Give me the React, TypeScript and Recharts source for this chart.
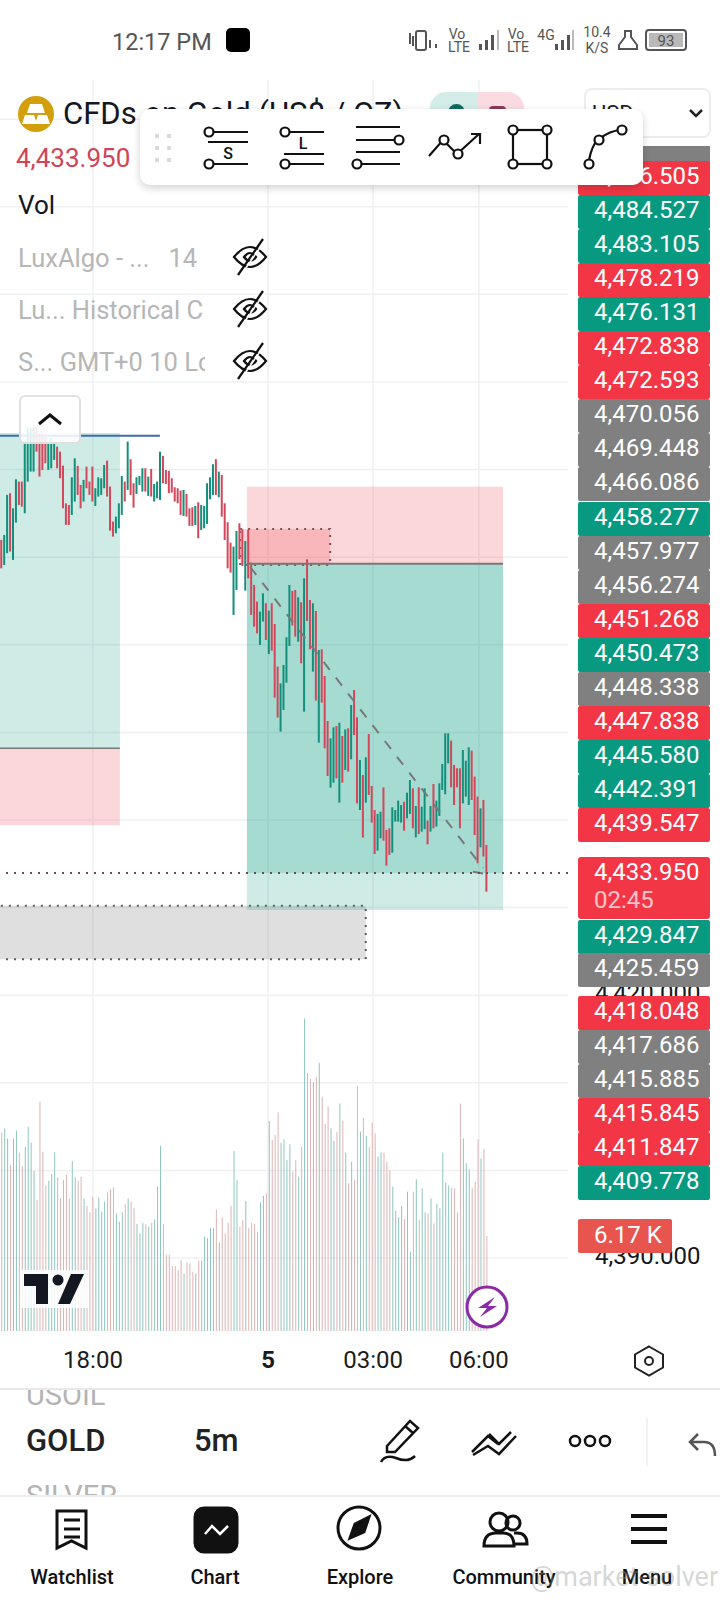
import React from 'react';
import { ComposedChart, Bar, XAxis, YAxis, CartesianGrid, ReferenceArea, ReferenceLine } from 'recharts';

// 5m GOLD candles
const highs = [
  4471.97, 4472.54, 4477.11, 4477.3, 4475.58, 4478.89, 4478.63, 4478.63, 4483.0, 4484.72,
  4484.72, 4484.91, 4484.91, 4484.15, 4483.76, 4483.76, 4483.0, 4483.57, 4483.0, 4482.62,
  4482.05, 4480.45, 4476.15, 4475.96, 4479.12, 4481.29, 4480.42, 4478.25, 4478.82, 4480.34,
  4478.63, 4480.34, 4477.87, 4479.12, 4479.01, 4480.53, 4481.02, 4478.06, 4474.06, 4474.63,
  4476.15, 4479.27, 4478.63, 4483.19, 4481.18, 4478.44, 4479.12, 4479.27, 4480.15, 4480.15,
  4479.2, 4480.07, 4478.36, 4478.63, 4482.05, 4481.56, 4479.96, 4479.85, 4479.01, 4477.98,
  4477.87, 4477.6, 4477.68, 4477.22, 4475.58, 4475.7, 4475.85, 4476.27, 4475.96, 4475.85,
  4478.44, 4479.12, 4480.61, 4481.18, 4479.77, 4479.39, 4476.15, 4473.99, 4471.66, 4471.21,
  4473.0, 4473.87, 4473.19, 4471.85, 4473.11, 4469.38, 4466.83, 4464.93, 4463.79, 4465.88,
  4464.74, 4463.9, 4464.74, 4462.38, 4457.51, 4455.6, 4457.7, 4460.86, 4466.83, 4466.15,
  4466.26, 4465.42, 4464.85, 4467.59, 4469.76, 4465.12, 4464.74, 4463.86, 4459.41, 4459.49,
  4456.44, 4451.3, 4449.32, 4450.58, 4450.73, 4451.11, 4449.59, 4450.35, 4450.47, 4453.13,
  4454.84, 4451.72, 4446.85, 4445.14, 4447.16, 4449.82, 4443.88, 4441.14, 4440.69, 4440.95,
  4443.73, 4438.86, 4439.05, 4441.45, 4441.14, 4442.21, 4441.71, 4442.09, 4443.12, 4444.57,
  4443.62, 4441.6, 4443.73, 4441.52, 4443.62, 4439.93, 4441.6, 4444.11, 4442.21, 4444.19,
  4446.39, 4449.9, 4449.9, 4449.06, 4446.28, 4445.9, 4445.9, 4447.99, 4446.77, 4448.3,
  4447.92, 4444.95, 4442.67, 4441.33, 4442.29, 4437.15,
];
const lows = [
  4468.73, 4469.11, 4470.45, 4470.64, 4469.69, 4473.95, 4475.96, 4475.77, 4475.01, 4478.63,
  4479.77, 4479.77, 4482.05, 4479.2, 4479.96, 4480.72, 4479.96, 4480.15, 4481.1, 4480.15,
  4479.01, 4475.58, 4473.68, 4473.68, 4474.82, 4476.35, 4477.11, 4475.58, 4476.35, 4477.87,
  4477.11, 4476.35, 4475.85, 4476.92, 4477.11, 4477.87, 4476.92, 4473.03, 4472.35, 4472.73,
  4473.3, 4474.82, 4476.35, 4477.68, 4477.11, 4475.66, 4477.22, 4478.25, 4477.49, 4477.49,
  4476.99, 4476.92, 4476.35, 4476.72, 4476.53, 4478.44, 4478.36, 4477.3, 4477.37, 4476.35,
  4476.15, 4474.82, 4474.71, 4474.63, 4473.57, 4473.57, 4473.68, 4472.16, 4473.11, 4473.3,
  4473.8, 4476.61, 4477.11, 4477.11, 4476.84, 4474.63, 4471.97, 4468.73, 4468.24, 4463.41,
  4466.26, 4469.76, 4469.0, 4466.18, 4467.59, 4463.41, 4462.07, 4461.31, 4459.98, 4462.65,
  4460.55, 4458.95, 4459.33, 4453.97, 4451.69, 4450.09, 4452.56, 4455.68, 4459.87, 4462.19,
  4460.93, 4460.36, 4457.89, 4452.37, 4462.72, 4459.49, 4456.94, 4453.63, 4448.83, 4453.4,
  4448.18, 4445.02, 4443.7, 4444.26, 4444.76, 4441.98, 4444.26, 4445.71, 4445.52, 4446.93,
  4449.7, 4441.9, 4441.14, 4437.99, 4441.98, 4442.86, 4439.7, 4436.12, 4436.5, 4437.91,
  4437.64, 4434.79, 4436.01, 4436.27, 4439.81, 4439.81, 4439.7, 4438.78, 4440.19, 4440.69,
  4439.05, 4438.02, 4438.4, 4438.67, 4438.94, 4437.22, 4438.67, 4439.05, 4439.24, 4440.46,
  4443.43, 4442.93, 4446.47, 4443.73, 4441.71, 4443.73, 4439.05, 4441.9, 4442.67, 4441.71,
  4442.28, 4438.29, 4435.06, 4436.88, 4435.82, 4431.82,
];
// g = close above open, r = close below open
const directions = [
  'r', 'g', 'g', 'r', 'g', 'g', 'r', 'r', 'g', 'g',
  'g', 'g', 'r', 'r', 'r', 'r', 'g', 'g', 'g', 'r',
  'r', 'r', 'r', 'r', 'g', 'g', 'r', 'r', 'g', 'r',
  'r', 'r', 'g', 'g', 'g', 'g', 'r', 'r', 'r', 'g',
  'g', 'g', 'r', 'g', 'r', 'r', 'g', 'g', 'g', 'r',
  'g', 'r', 'g', 'g', 'g', 'r', 'r', 'r', 'r', 'r',
  'r', 'r', 'g', 'r', 'r', 'r', 'g', 'r', 'g', 'g',
  'g', 'g', 'g', 'r', 'g', 'r', 'r', 'r', 'r', 'g',
  'g', 'r', 'r', 'g', 'r', 'r', 'r', 'r', 'g', 'g',
  'r', 'g', 'r', 'r', 'r', 'g', 'g', 'g', 'g', 'r',
  'r', 'g', 'r', 'g', 'r', 'r', 'g', 'r', 'g', 'r',
  'r', 'r', 'g', 'g', 'r', 'g', 'r', 'g', 'r', 'g',
  'r', 'r', 'g', 'r', 'g', 'r', 'r', 'r', 'g', 'g',
  'r', 'r', 'r', 'g', 'g', 'g', 'g', 'r', 'g', 'g',
  'r', 'g', 'r', 'g', 'g', 'r', 'g', 'r', 'g', 'g',
  'g', 'g', 'g', 'r', 'r', 'r', 'r', 'g', 'g', 'g',
  'r', 'r', 'r', 'g', 'r', 'r',
];
const volumes = [
  12.88, 13.16, 12.51, 10.78, 12.47, 13.01, 11.58, 10.71, 11.97, 13.27,
  12.23, 10.39, 8.51, 14.89, 11.65, 9.44, 9.76, 10.19, 11.6, 9.98,
  8.61, 9.81, 10.13, 8.61, 11.04, 9.98, 9.76, 10.02, 8.61, 8.14,
  7.71, 8.72, 7.97, 8.66, 7.75, 8.4, 9.0, 9.22, 9.33, 7.64,
  7.1, 7.71, 8.25, 8.61, 8.4, 7.97, 6.95, 6.34, 7.03, 6.93,
  6.77, 7.03, 7.25, 9.37, 12.03, 6.93, 4.94, 4.94, 4.22, 4.22,
  3.96, 4.61, 3.74, 4.44, 4.39, 3.85, 3.74, 4.57, 4.57, 6.13,
  6.02, 6.71, 6.67, 7.9, 5.74, 7.38, 6.34, 7.03, 8.12, 11.69,
  9.81, 6.77, 7.21, 8.44, 6.71, 7.03, 6.95, 6.45, 8.33, 8.79,
  8.94, 13.64, 12.4, 12.73, 14.2, 12.23, 12.45, 11.1, 12.12, 10.35,
  11.1, 10.02, 11.97, 20.3, 16.77, 16.36, 16.15, 16.52, 17.42, 15.22,
  13.44, 14.57, 13.16, 12.36, 12.94, 14.78, 13.66, 11.58, 9.59, 11.0,
  9.81, 15.91, 12.94, 13.85, 12.68, 11.93, 13.53, 12.84, 11.32, 11.6,
  11.58, 10.99, 10.45, 9.37, 7.81, 7.38, 8.12, 7.27, 9.05, 5.15,
  9.05, 9.87, 7.21, 9.26, 7.71, 7.64, 8.61, 6.99, 8.25, 7.97,
  11.58, 9.65, 9.44, 9.31, 9.26, 7.71, 14.78, 12.51, 10.89, 10.5,
  9.31, 9.7, 12.45, 11.21, 11.82, 6.17,
];

const rows = highs.map((high, i) => ({
  i,
  high,
  low: lows[i],
  up: directions[i] === 'g',
  vol: volumes[i],
}));

const priceTicks = [4520, 4510, 4500, 4490, 4480, 4470, 4460, 4450, 4440, 4430, 4420, 4410, 4400, 4390];
const timeTicks = [31.05, 90.6, 126.3, 162.3];
const timeLabels = ['18:00', '5', '03:00', '06:00'];

const upperTags: [string, string][] = [
  ['4,486.505', 'r'], ['4,484.527', 'g'], ['4,483.105', 'g'], ['4,478.219', 'r'], ['4,476.131', 'g'],
  ['4,472.838', 'r'], ['4,472.593', 'r'], ['4,470.056', 'n'], ['4,469.448', 'n'], ['4,466.086', 'n'],
  ['4,458.277', 'g'], ['4,457.977', 'n'], ['4,456.274', 'n'], ['4,451.268', 'r'], ['4,450.473', 'g'],
  ['4,448.338', 'n'], ['4,447.838', 'r'], ['4,445.580', 'g'], ['4,442.391', 'g'], ['4,439.547', 'r'],
];
const lowerTags: [string, string][] = [
  ['4,429.847', 'g'], ['4,425.459', 'n'],
];
const bottomTags: [string, string][] = [
  ['4,418.048', 'r'], ['4,417.686', 'n'], ['4,415.885', 'n'], ['4,415.845', 'r'], ['4,411.847', 'r'], ['4,409.778', 'g'],
];
const tagColors: { [key: string]: string } = { r: '#f23645', g: '#089981', n: '#808080' };
const navItems = [
  ['Watchlist', 72],
  ['Chart', 215],
  ['Explore', 360],
  ['Community', 504],
  ['Menu', 647],
] as [string, number][];

const ROBOTO = 'Roboto, sans-serif';

const CandleShape = (props: any) => {
  const { x, y, width, height, payload } = props;
  return (
    <rect
      x={x + width / 2 - 1}
      y={y}
      width={2}
      height={Math.max(height, 1)}
      fill={payload.up ? '#12907b' : '#d2485a'}
    />
  );
};

const VolumeShape = (props: any) => {
  const { x, y, width, height, payload } = props;
  return (
    <rect
      x={x + width / 2 - 0.5}
      y={y}
      width={1}
      height={height}
      fill={payload.up ? '#8fc5bf' : '#deb4b4'}
    />
  );
};

const TimeTick = (props: any) => {
  const { x, y, index } = props;
  const label = timeLabels[index];
  return (
    <text
      x={x}
      y={y}
      dy={29}
      textAnchor="middle"
      style={{ fontFamily: ROBOTO, fontSize: 24, fontWeight: label === '5' ? 700 : 400, fill: '#1c1c1c' }}
    >
      {label}
    </text>
  );
};

const Tag = ({ top, label, kind, height = 34 }: { top: number; label: string; kind: string; height?: number }) => (
  <div
    style={{
      position: 'absolute',
      left: 578,
      top,
      width: 132,
      height,
      background: tagColors[kind],
      borderRadius: 2,
      color: '#fff',
      fontFamily: ROBOTO,
      fontSize: 24,
      lineHeight: `${height - 3}px`,
      paddingLeft: 16,
      boxSizing: 'border-box',
    }}
  >
    {label}
  </div>
);

const Text = ({ x, y, size, color, children, weight = 400, clip }: any) => (
  <div
    style={{
      position: 'absolute',
      left: x,
      top: y - size,
      lineHeight: `${size * 2}px`,
      fontFamily: ROBOTO,
      fontSize: size,
      fontWeight: weight,
      color,
      whiteSpace: 'nowrap',
      width: clip,
      overflow: clip ? 'hidden' : undefined,
    }}
  >
    {children}
  </div>
);

const EyeOff = ({ y }: { y: number }) => (
  <g transform={`translate(250 ${y})`} fill="none" stroke="#111" strokeWidth={2.2}>
    <path d="M-16 0 Q0 -20 16 0 Q0 20 -16 0Z" />
    <path d="M-6 0 Q0 -8 6 0 Q0 8 -6 0Z" />
    <path d="M-12 18 L13 -18" />
    <path d="M-9 18 L16 -18" stroke="#fff" strokeWidth={1.5} />
  </g>
);

const ToolIcons = () => (
  <g fill="none" stroke="#111" strokeWidth={2.2}>
    {/* short */}
    <circle cx={209} cy={132} r={4.5} fill="#fff" /><path d="M214 132 H248 M208 142 H248 M214 164 H248" /><circle cx={209} cy={164} r={4.5} fill="#fff" />
    {/* long */}
    <circle cx={285} cy={132} r={4.5} fill="#fff" /><path d="M290 132 H324 M284 154 H324 M290 164 H324" /><circle cx={285} cy={164} r={4.5} fill="#fff" />
    {/* parallel */}
    <path d="M356 127 H400 M356 140 H394 M356 152 H400 M362 164 H400" /><circle cx={399} cy={140} r={4.5} fill="#fff" /><circle cx={357} cy={164} r={4.5} fill="#fff" />
    {/* path */}
    <path d="M429 156 L443 140 L457 154 L479 134 M471 134 H480 V144" /><circle cx={444} cy={140} r={4.5} fill="#fff" /><circle cx={458} cy={154} r={4.5} fill="#fff" />
    {/* rectangle */}
    <rect x={513} y={130} width={34} height={34} /><circle cx={513} cy={130} r={4.5} fill="#fff" /><circle cx={547} cy={130} r={4.5} fill="#fff" /><circle cx={513} cy={164} r={4.5} fill="#fff" /><circle cx={547} cy={164} r={4.5} fill="#fff" />
    {/* curve */}
    <path d="M589 160 Q592 145 598 140 Q610 130 622 130" /><circle cx={589} cy={164} r={4.5} fill="#fff" /><circle cx={599} cy={140} r={4.5} fill="#fff" /><circle cx={622} cy={130} r={4.5} fill="#fff" />
  </g>
);

const NavIcons = () => (
  <g fill="none" stroke="#111" strokeWidth={3}>
    <path d="M57 1511 H86 V1548 L71.5 1541 L57 1548 Z" />
    <path d="M64 1520 H80 M64 1529 H80 M64 1537 H80" />
    <rect x={195} y={1508} width={42} height={44} rx={9} fill="#111" />
    <path d="M205 1534 L212 1526 L220 1534 L228 1526" stroke="#fff" strokeWidth={2.5} />
    <circle cx={359} cy={1528} r={21} />
    <path d="M350 1538 L355 1524 L369 1517 L364 1532 Z" fill="#111" />
    <circle cx={499} cy={1522} r={9} /><path d="M484 1546 Q484 1533 496 1533 H503 Q514 1533 514 1546 Z" />
    <circle cx={513} cy={1523} r={7} /><path d="M514 1533 H517 Q527 1533 527 1544 H514" />
    <path d="M631 1516 H667 M631 1529 H667 M631 1542 H667" strokeWidth={4} />
  </g>
);

const App = () => (
  <div style={{ position: 'absolute', left: 0, top: 0, width: 720, height: 1599, overflow: 'hidden', background: '#fff' }}>
    <div style={{ position: 'absolute', left: 0, top: 0 }}>
      <ComposedChart
        width={720}
        height={1599}
        data={rows}
        margin={{ top: 80, right: 0, bottom: 208, left: 0 }}
        barGap={0}
      >
        <CartesianGrid stroke="#eff0f2" strokeWidth={1.5} xAxisId="price" yAxisId="price" syncWithTicks />
        <XAxis
          xAxisId="price"
          dataKey="i"
          type="number"
          domain={[-0.58, 192.6]}
          ticks={timeTicks}
          height={60}
          axisLine={false}
          tickLine={false}
          tick={<TimeTick />}
          interval={0}
          allowDecimals
        />
        <XAxis xAxisId="vol" dataKey="i" type="number" domain={[-0.58, 192.6]} hide />
        <YAxis
          yAxisId="price"
          orientation="right"
          type="number"
          domain={[4381.67, 4524.47]}
          ticks={priceTicks}
          width={152}
          axisLine={false}
          tickLine={false}
          tickMargin={21}
          interval={0}
          tickFormatter={(v: number) => `${v.toLocaleString('en-US')}.000`}
          tick={{ fontFamily: ROBOTO, fontSize: 24, fill: '#131722', textAnchor: 'start', dy: -3 }}
        />
        <YAxis yAxisId="vol" type="number" domain={[0, 81.25]} hide />

        {/* left trade box */}
        <ReferenceArea xAxisId="price" yAxisId="price" x1={-0.58} x2={40.2} y1={4484.18} y2={4448.2} fill="#089981" fillOpacity={0.2} stroke="none" />
        <ReferenceArea xAxisId="price" yAxisId="price" x1={-0.58} x2={40.2} y1={4448.2} y2={4439.4} fill="#f23645" fillOpacity={0.2} stroke="none" />
        <ReferenceLine xAxisId="price" yAxisId="price" segment={[{ x: -0.58, y: 4448.2 }, { x: 40.2, y: 4448.2 }]} stroke="#787878" strokeWidth={1.5} />
        <ReferenceLine xAxisId="price" yAxisId="price" segment={[{ x: -0.58, y: 4483.87 }, { x: 53.8, y: 4483.87 }]} stroke="#3c6db4" strokeWidth={2} />

        {/* grey zone, starts off screen so the dotted edge does not show */}
        <ReferenceArea xAxisId="price" yAxisId="price" x1={-3} x2={123.8} y1={4430.2} y2={4424.1} ifOverflow="visible" fill="#787878" fillOpacity={0.24} stroke="#5c5c5c" strokeWidth={2} strokeDasharray="2 6" />

        {/* right trade box */}
        <ReferenceArea xAxisId="price" yAxisId="price" x1={83.4} x2={170.5} y1={4478.05} y2={4469.26} fill="#f23645" fillOpacity={0.2} stroke="none" />
        <ReferenceArea xAxisId="price" yAxisId="price" x1={83.4} x2={170.5} y1={4469.26} y2={4429.73} fill="#089981" fillOpacity={0.2} stroke="none" />
        <ReferenceArea xAxisId="price" yAxisId="price" x1={83.4} x2={170.5} y1={4469.26} y2={4433.95} fill="#089981" fillOpacity={0.2} stroke="none" />
        <ReferenceArea xAxisId="price" yAxisId="price" x1={81.1} x2={111.7} y1={4473.22} y2={4469.11} fill="#f23645" fillOpacity={0.2} stroke="#7d5560" strokeWidth={2} strokeDasharray="2 6" />
        <ReferenceLine xAxisId="price" yAxisId="price" segment={[{ x: 83.4, y: 4469.26 }, { x: 170.5, y: 4469.26 }]} stroke="#787878" strokeWidth={2} />

        <Bar xAxisId="vol" yAxisId="vol" dataKey="vol" barSize={1} shape={<VolumeShape />} isAnimationActive={false} />
        <Bar
          xAxisId="price"
          yAxisId="price"
          dataKey={(d: any) => [d.low, d.high]}
          barSize={2}
          shape={<CandleShape />}
          isAnimationActive={false}
        />

        <ReferenceLine xAxisId="price" yAxisId="price" segment={[{ x: 84.5, y: 4468.88 }, { x: 163.7, y: 4434.52 }]} stroke="#787878" strokeWidth={2} strokeDasharray="10 10" />
        <ReferenceLine xAxisId="price" yAxisId="price" segment={[{ x: 160.3, y: 4434.1 }, { x: 163.7, y: 4433.9 }]} stroke="#787878" strokeWidth={2} />
        <ReferenceLine xAxisId="price" yAxisId="price" y={4433.95} stroke="#6f4a55" strokeWidth={2} strokeDasharray="2 6" />
      </ComposedChart>
    </div>

    {/* price scale tags */}
    <div style={{ position: 'absolute', left: 578, top: 146, width: 132, height: 18, background: '#808080' }} />
    {upperTags.map(([label, kind], i) => (
      <Tag key={label} top={161 + i * 34.05} label={label} kind={kind} />
    ))}
    <div
      style={{
        position: 'absolute', left: 578, top: 857, width: 132, height: 62, background: tagColors.r, borderRadius: 3,
        color: '#fff', fontFamily: ROBOTO, fontSize: 24, paddingLeft: 16, boxSizing: 'border-box', lineHeight: '28px', paddingTop: 1,
      }}
    >
      4,433.950
      <div style={{ opacity: 0.7 }}>02:45</div>
    </div>
    {lowerTags.map(([label, kind], i) => (
      <Tag key={label} top={919.5 + i * 33.7} label={label} kind={kind} />
    ))}
    {bottomTags.map(([label, kind], i) => (
      <Tag key={label} top={996 + i * 33.9} label={label} kind={kind} />
    ))}
    <div
      style={{
        position: 'absolute', left: 578, top: 1219, width: 94, height: 34, background: '#e8554f', borderRadius: 2, color: '#fff',
        fontFamily: ROBOTO, fontSize: 24, lineHeight: '33px', paddingLeft: 16, boxSizing: 'border-box',
      }}
    >
      6.17 K
    </div>

    {/* legend */}
    <Text x={63} y={114} size={31} color="#131722">CFDs on Gold (US$ / OZ)</Text>
    <div style={{ position: 'absolute', left: 430, top: 92, width: 48, height: 50, background: '#d5ede9', borderRadius: '16px 0 0 16px' }} />
    <div style={{ position: 'absolute', left: 478, top: 92, width: 46, height: 50, background: '#fbdbe2', borderRadius: '0 16px 16px 0' }} />
    <div style={{ position: 'absolute', left: 448, top: 104, width: 17, height: 17, background: '#0c6b5e', borderRadius: '50%' }} />
    <div style={{ position: 'absolute', left: 489, top: 106, width: 17, height: 8, background: '#8a3a5c', borderRadius: 4 }} />
    <div style={{ position: 'absolute', left: 584, top: 88, width: 127, height: 50, border: '2px solid #ededed', borderRadius: 8, boxSizing: 'border-box', background: '#fff' }} />
    <Text x={592} y={114} size={22} color="#222">USD</Text>
    <Text x={16} y={158} size={26} color="#cf4458">4,433.950</Text>
    <Text x={18} y={205} size={26} color="#131722">Vol</Text>
    <Text x={18} y={258} size={25.5} color="#b6b6b6" clip={187}>LuxAlgo - ... &nbsp;&nbsp;14 1</Text>
    <Text x={18} y={310} size={25.5} color="#b6b6b6" clip={187}>Lu... Historical C</Text>
    <Text x={18} y={362} size={25.5} color="#b6b6b6" clip={187}>S... GMT+0 10 Lc</Text>
    <div style={{ position: 'absolute', left: 19, top: 395, width: 62, height: 49, background: 'rgba(255,255,255,0.88)', border: '2px solid #e0e0e0', borderRadius: 6, boxSizing: 'border-box' }} />

    {/* bottom bars */}
    <div style={{ position: 'absolute', left: 0, top: 1388, width: 720, height: 211, background: '#fff', borderTop: '2px solid #e8e8e8', boxSizing: 'border-box' }} />
    <div style={{ position: 'absolute', left: 0, top: 1390, width: 720, height: 18, overflow: 'hidden' }}>
      <Text x={26} y={5} size={29} color="#b4b4b4">USOIL</Text>
    </div>
    <Text x={26} y={1441} size={31} weight={500} color="#222">GOLD</Text>
    <Text x={194} y={1441} size={31} weight={500} color="#222">5m</Text>
    <div style={{ position: 'absolute', left: 0, top: 1476, width: 720, height: 19, overflow: 'hidden' }}>
      <Text x={26} y={20} size={29} color="#b4b4b4">SILVER</Text>
    </div>
    <div style={{ position: 'absolute', left: 0, top: 1495, width: 720, height: 2, background: '#eeeeee' }} />
    {navItems.map(([label, cx]) => (
      <div key={label} style={{ position: 'absolute', left: cx - 60, width: 120, top: 1565, textAlign: 'center', fontFamily: ROBOTO, fontSize: 20, fontWeight: 500, lineHeight: '24px', color: '#111' }}>
        {label}
      </div>
    ))}
    <div style={{ position: 'absolute', left: 530, top: 1560, fontFamily: ROBOTO, fontSize: 27, color: 'rgba(150,150,150,0.4)', lineHeight: '34px', whiteSpace: 'nowrap' }}>
      @market-solver
    </div>

    {/* toolbar */}
    <div style={{ position: 'absolute', left: 140, top: 109, width: 503, height: 76, background: '#fff', borderRadius: 10, boxShadow: '0 3px 8px rgba(0,0,0,0.18)' }} />

    <svg width={720} height={1599} style={{ position: 'absolute', left: 0, top: 0 }}>
      {/* status bar */}
      <text x={112} y={50} fontFamily={ROBOTO} fontSize={23.5} fill="#555">12:17 PM</text>
      <rect x={226} y={28} width={24} height={24} rx={5} fill="#000" />
      <g fill="none" stroke="#555" strokeWidth={2}>
        <rect x={416} y={31} width={10} height={19} rx={2} />
        <path d="M410 33 V44 M413 36 V46 M430 40 V48 M436 44 V48" />
        <path d="M619 49 V45 L625 37 V31 H631 V37 L637 45 V49 Z" />
        <rect x={646} y={30} width={40} height={20} rx={3} />
        <rect x={649} y={33} width={34} height={14} fill="#b9b9b9" stroke="none" />
      </g>
      <g fontFamily={ROBOTO} fontSize={14} fill="#555" textAnchor="middle">
        <text x={457} y={39}>Vo</text><text x={459} y={52}>LTE</text>
        <text x={516} y={39}>Vo</text><text x={518} y={52}>LTE</text>
        <text x={546} y={40}>4G</text>
        <text x={597} y={37}>10.4</text><text x={597} y={53}>K/S</text>
        <text x={666} y={46} fontSize={15}>93</text>
      </g>
      <g fill="#555">
        <rect x={479} y={44} width={3} height={6} /><rect x={485} y={40} width={3} height={10} /><rect x={491} y={35} width={3} height={15} /><rect x={497} y={30} width={2} height={20} fill="#bbb" />
        <rect x={555} y={44} width={3} height={6} /><rect x={561} y={40} width={3} height={10} /><rect x={567} y={35} width={3} height={15} /><rect x={572} y={30} width={2} height={20} fill="#bbb" />
      </g>

      {/* gold badge */}
      <circle cx={36} cy={114} r={18} fill="#d49f0d" />
      <path d="M30 104 H42 L45 113 H27 Z M22 124 L25 115 H34 L37 124 Z M35 124 L38 115 H47 L50 124 Z" fill="#fff" />
      <path d="M690 110 L696 116 L702 110" fill="none" stroke="#222" strokeWidth={2.5} />

      {/* toolbar content */}
      <g fill="#d8d8d8">
        {[155, 167].map((cx) => [134, 146, 158].map((cy) => <rect key={`${cx}-${cy}`} x={cx} y={cy} width={4} height={4} rx={1} />))}
      </g>
      <ToolIcons />
      <text x={228} y={159} fontFamily={ROBOTO} fontSize={16} fontWeight={500} textAnchor="middle" fill="#111">S</text>
      <text x={303} y={149} fontFamily={ROBOTO} fontSize={16} fontWeight={500} textAnchor="middle" fill="#111">L</text>

      {/* legend eyes, collapse chevron */}
      <EyeOff y={257} />
      <EyeOff y={309} />
      <EyeOff y={361} />
      <path d="M39 424 L50 415 L61 424" fill="none" stroke="#111" strokeWidth={3} />

      {/* tradingview mark */}
      <rect x={20} y={1270} width={68} height={38} fill="#fff" opacity={0.85} />
      <path d="M24 1274 H48 V1304 H36 V1286 H24 Z" fill="#131722" />
      <circle cx={58} cy={1280} r={5.5} fill="#131722" />
      <path d="M71 1274 H84 L70 1304 H58 Z" fill="#131722" />

      {/* lightning button */}
      <circle cx={487} cy={1307} r={20} fill="#fff" stroke="#8a2aa5" strokeWidth={3} />
      <path d="M495 1297 L478 1308 H487 L480 1317 L497 1306 H488 Z" fill="#8a2aa5" />

      {/* settings hexagon */}
      <path d="M649 1347 L663 1355 V1368 L649 1376 L635 1368 V1355 Z" fill="none" stroke="#222" strokeWidth={2} transform="translate(0 -0.5)" />
      <circle cx={649} cy={1361} r={4} fill="none" stroke="#222" strokeWidth={2} />

      {/* tool row */}
      <g fill="none" stroke="#111" strokeWidth={2.5}>
        <path d="M387 1446 L410 1421 L418 1428 L395 1452 H387 Z M405 1426 L413 1433" />
        <path d="M381 1462 Q385 1454 396 1458 Q408 1463 415 1456" />
        <path d="M472 1452 L488 1436 L498 1444 M473 1455 L488 1446 L499 1454 L516 1436 M489 1434 L499 1444 L511 1432" />
        <circle cx={575} cy={1441} r={5} /><circle cx={590} cy={1441} r={5} /><circle cx={605} cy={1441} r={5} />
        <path d="M647 1418 V1466" stroke="#eee" strokeWidth={1.5} />
        <path d="M698 1434 L690 1442 L698 1450 M691 1442 H704 Q715 1442 715 1456" stroke="#555" />
      </g>
      <NavIcons />
    </svg>
  </div>
);

export default App;
